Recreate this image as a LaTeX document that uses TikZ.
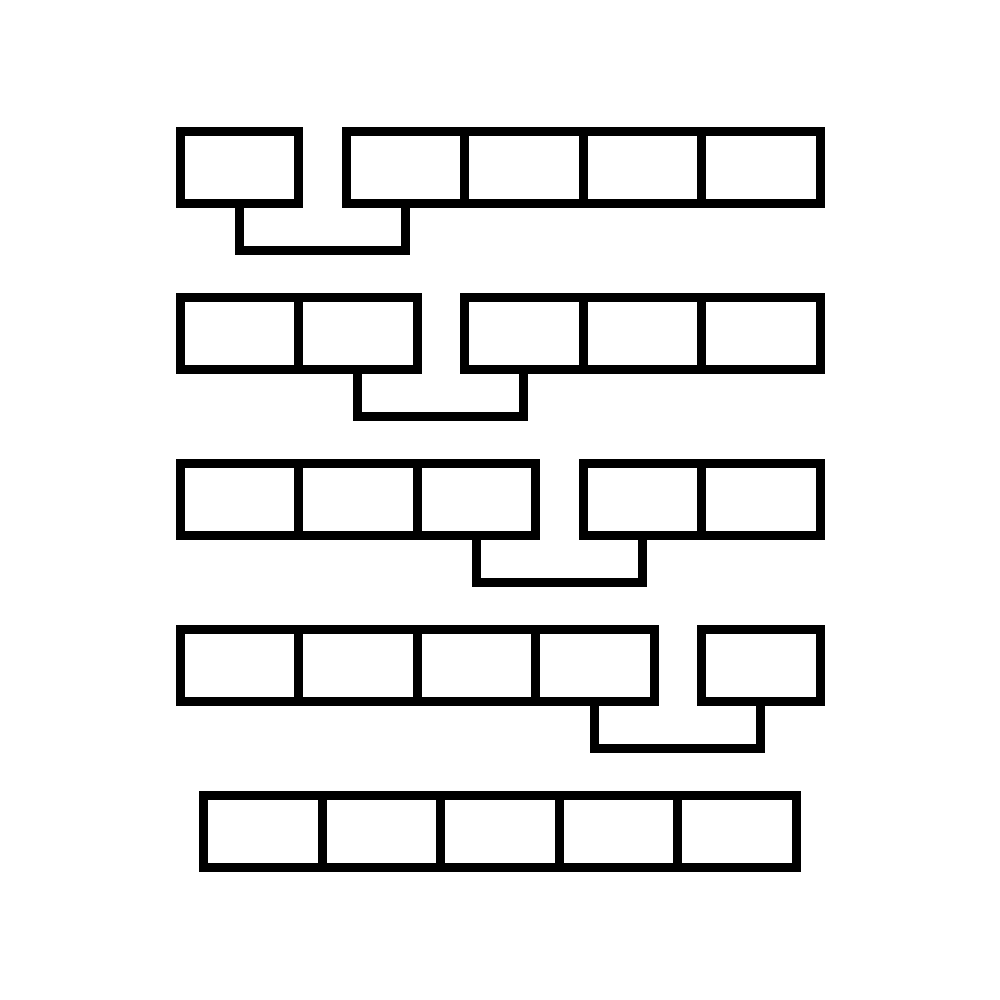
\documentclass[tikz,border=0pt]{standalone}
\usepackage{tikz}
\usetikzlibrary{arrows}

\begin{document}
\begin{tikzpicture}[line join=miter,x=1cm,y=1cm,line width=0.09cm]
        \fill[white] (0,0) rectangle (10,10);
        \useasboundingbox (0,0) rectangle (10,10);
        % row 1
        \draw (1.8,7.965) rectangle (2.985,8.68);
        \draw (3.46,7.965) rectangle (8.2,8.68);
        \draw (4.645,7.965) -- (4.645,8.68);
        \draw (5.83,7.965) -- (5.83,8.68);
        \draw (7.015,7.965) -- (7.015,8.68);
        \draw (2.3925,7.965) -- (2.3925,7.493) -- (4.0525,7.493) -- (4.0525,7.965);
        % row 2
        \draw (1.8,6.305) rectangle (4.17,7.02);
        \draw (2.985,6.305) -- (2.985,7.02);
        \draw (4.645,6.305) rectangle (8.2,7.02);
        \draw (5.83,6.305) -- (5.83,7.02);
        \draw (7.015,6.305) -- (7.015,7.02);
        \draw (3.5775,6.305) -- (3.5775,5.833) -- (5.2375,5.833) -- (5.2375,6.305);
        % row 3
        \draw (1.8,4.645) rectangle (5.355,5.36);
        \draw (2.985,4.645) -- (2.985,5.36);
        \draw (4.17,4.645) -- (4.17,5.36);
        \draw (5.83,4.645) rectangle (8.2,5.36);
        \draw (7.015,4.645) -- (7.015,5.36);
        \draw (4.7625,4.645) -- (4.7625,4.173) -- (6.4225,4.173) -- (6.4225,4.645);
        % row 4
        \draw (1.8,2.985) rectangle (6.54,3.7);
        \draw (2.985,2.985) -- (2.985,3.7);
        \draw (4.17,2.985) -- (4.17,3.7);
        \draw (5.355,2.985) -- (5.355,3.7);
        \draw (7.015,2.985) rectangle (8.2,3.7);
        \draw (5.9475,2.985) -- (5.9475,2.513) -- (7.6075,2.513) -- (7.6075,2.985);
        % row 5
        \draw (2.035,1.325) rectangle (7.96,2.04);
        \draw (3.22,1.325) -- (3.22,2.04);
        \draw (4.405,1.325) -- (4.405,2.04);
        \draw (5.59,1.325) -- (5.59,2.04);
        \draw (6.775,1.325) -- (6.775,2.04);
    \end{tikzpicture}
\end{document}
